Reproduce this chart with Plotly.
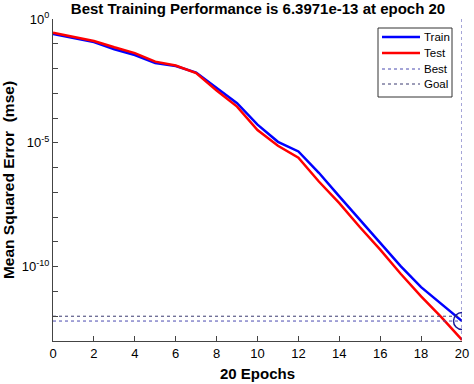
import plotly.graph_objects as go

epochs = list(range(21))
train_mse = [0.25, 0.17, 0.117, 0.060, 0.035, 0.0166, 0.0126, 0.0069, 1.6e-3, 4.0e-4,
             5.4e-5, 1.1e-5, 4.5e-6, 6.2e-7, 6.9e-8, 7.9e-9, 9.1e-10, 1.05e-10, 1.5e-11,
             3.2e-12, 6.3971e-13]
test_mse = [0.28, 0.19, 0.13, 0.072, 0.042, 0.019, 0.0132, 0.0066, 1.3e-3, 2.9e-4,
            3.3e-5, 7.6e-6, 2.5e-6, 2.75e-7, 3.7e-8, 4.0e-9, 4.9e-10, 5.2e-11, 6.3e-12,
            8.9e-13, 1.1e-13]
best_epoch = 20
best_perf = 6.3971e-13
goal = 1e-12
y_tick_vals = [10.0 ** (-k) for k in range(14)]
y_tick_text = ["10<sup>0</sup>", "", "", "", "", "10<sup>-5</sup>", "", "", "", "",
               "10<sup>-10</sup>", "", "", ""]
x_tick_vals = list(range(0, 21, 2))
legend_names = ["Train", "Test", "Best", "Goal"]

font_family = "Liberation Sans, Arial, sans-serif"
train_color = "#0000ff"
test_color = "#ff0000"
best_color = "#4a4ab0"
goal_color = "#3a3a70"
legend_styles = [(train_color, 2.5, "solid"), (test_color, 2.5, "solid"),
                 (best_color, 1, "dot"), (goal_color, 1, "dot")]

fig = go.Figure()
fig.add_trace(go.Scatter(x=epochs, y=train_mse, mode="lines", name="Train",
                         line=dict(color=train_color, width=2.5)))
fig.add_trace(go.Scatter(x=epochs, y=test_mse, mode="lines", name="Test",
                         line=dict(color=test_color, width=2.5)))
fig.add_trace(go.Scatter(x=[best_epoch, best_epoch], y=[1.0, 1e-13], mode="lines",
                         name="Best", line=dict(color=best_color, width=1, dash="dot")))
fig.add_trace(go.Scatter(x=[0, best_epoch], y=[best_perf, best_perf], mode="lines",
                         name="Best", line=dict(color=best_color, width=1, dash="dot")))
fig.add_trace(go.Scatter(x=[0, 20], y=[goal, goal], mode="lines", name="Goal",
                         line=dict(color=goal_color, width=1, dash="dot")))
fig.add_trace(go.Scatter(x=[best_epoch], y=[best_perf], mode="markers", name="Best point",
                         marker=dict(symbol="circle-open", size=17, color="#1a1a99",
                                     line=dict(width=1.5, color="#1a1a99"))))

# plot area in pixels: left 53, right 462, top 19, bottom 341
L, R, T, B = 53, 462, 19, 341


def px(x):
    return (x - L) / (R - L)


def py(y):
    return 1 - (y - T) / (B - T)


shapes = [dict(type="rect", xref="paper", yref="paper", x0=px(378), x1=px(452),
               y0=py(97), y1=py(28), line=dict(color="#333", width=1),
               fillcolor="white", layer="above")]
annotations = []
row_y = [37, 53, 69, 84]
for name, (col, w, dash), yy in zip(legend_names, legend_styles, row_y):
    shapes.append(dict(type="line", xref="paper", yref="paper", x0=px(382), x1=px(420),
                       y0=py(yy), y1=py(yy), line=dict(color=col, width=w, dash=dash),
                       layer="above"))
    annotations.append(dict(text=name, xref="paper", yref="paper", x=px(422), y=py(yy),
                            xanchor="left", yanchor="middle", showarrow=False,
                            font=dict(size=11.5, color="black")))

fig.update_layout(
    width=474, height=384,
    margin=dict(l=L, r=474 - R, t=T, b=384 - B, autoexpand=False),
    paper_bgcolor="white", plot_bgcolor="white",
    font=dict(family=font_family, size=13, color="black"),
    title=dict(text="<b>Best Training Performance is 6.3971e-13 at epoch 20</b>",
               x=258 / 474, xanchor="center", y=1 - 9 / 384, yanchor="middle",
               yref="container", xref="container",
               font=dict(size=15, color="black")),
    showlegend=False,
    shapes=shapes,
    annotations=annotations,
    xaxis=dict(range=[0, 20], tickvals=x_tick_vals, ticks="inside", ticklen=5,
               tickcolor="#444", showline=True, linecolor="#444", linewidth=1,
               showgrid=False, zeroline=False, mirror=False, automargin=False,
               tickfont=dict(size=13),
               title=dict(text="<b>20 Epochs</b>", font=dict(size=15), standoff=8)),
    yaxis=dict(type="log", range=[-13, 0], tickvals=y_tick_vals, ticktext=y_tick_text,
               ticks="inside", ticklen=5, tickcolor="#444", showline=True,
               linecolor="#444", linewidth=1, showgrid=False, zeroline=False,
               mirror=False, automargin=False, tickfont=dict(size=13),
               title=dict(text="<b>Mean Squared Error&nbsp; (mse)</b>",
                          font=dict(size=15.5), standoff=10)),
)

fig.write_html("out.html", config={"displayModeBar": False},
               post_script="document.body.style.margin='0';")
